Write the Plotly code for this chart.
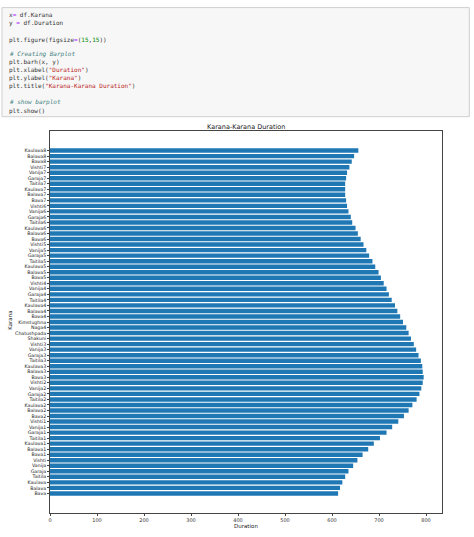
import plotly.graph_objects as go

# ---------------- data ----------------
karana = [
    "Bava", "Balava", "Kaulava", "Taitila", "Garaja", "Vanija", "Vishti",
    "Bava1", "Balava1", "Kaulava1", "Taitila1", "Garaja1", "Vanija1", "Vishti1",
    "Bava2", "Balava2", "Kaulava2", "Taitila2", "Garaja2", "Vanija2", "Vishti2",
    "Bava3", "Balava3", "Kaulava3", "Taitila3", "Garaja3", "Vanija3", "Vishti3",
    "Shakuni", "Chatushpada", "Naga4", "Kimstughna",
    "Bava4", "Balava4", "Kaulava4", "Taitila4", "Garaja4", "Vanija4", "Vishti4",
    "Bava5", "Balava5", "Kaulava5", "Taitila5", "Garaja5", "Vanija5", "Vishti5",
    "Bava6", "Balava6", "Kaulava6", "Taitila6", "Garaja6", "Vanija6", "Vishti6",
    "Bava7", "Balava7", "Kaulava7", "Taitila7", "Garaja7", "Vanija7", "Vishti7",
    "Bava8", "Balava8", "Kaulava8",
]
duration = [
    613, 617, 622, 628, 635, 645, 654,
    665, 677, 689, 702, 716, 728, 741,
    753, 763, 771, 780, 786, 790, 793,
    795, 793, 792, 789, 784, 779, 774,
    768, 763, 758, 751,
    745, 739, 734, 727, 721, 716, 710,
    704, 699, 692, 686, 679, 673, 667,
    661, 655, 650, 643, 640, 635, 632,
    630, 628, 628, 628, 630, 632, 637,
    642, 647, 656,
]
x_ticks = [0, 100, 200, 300, 400, 500, 600, 700, 800]

code_lines = [
    ('x<span style="color:#AA22FF">=</span> df.Karana', 15),
    ('y <span style="color:#AA22FF">=</span> df.Duration', 23.7),
    ('plt.figure(figsize<span style="color:#AA22FF">=</span>(<span style="color:#008800">15</span>,<span style="color:#008800">15</span>))', 40),
    ('<span style="color:#408080"><i># Creating Barplot</i></span>', 54.3),
    ('plt.barh(x, y)', 62.3),
    ('plt.xlabel(<span style="color:#BA2121">"Duration"</span>)', 70.3),
    ('plt.ylabel(<span style="color:#BA2121">"Karana"</span>)', 78.6),
    ('plt.title(<span style="color:#BA2121">"Karana-Karana Duration"</span>)', 86.7),
    ('<span style="color:#408080"><i># show barplot</i></span>', 102.7),
    ('plt.show()', 111),
]

# ---------------- geometry ----------------
W, H = 474, 537
L, R, T, B = 50, 441.7, 131.3, 513
pw, ph = R - L, B - T


def px(x):
    return (x - L) / pw


def py(y):
    return (B - y) / ph


fig = go.Figure(
    go.Bar(
        x=duration,
        y=karana,
        orientation="h",
        width=0.8,
        marker=dict(color="#1f77b4", line=dict(width=0)),
    )
)

fig.update_layout(
    width=W,
    height=H,
    margin=dict(l=L, r=W - R, t=T, b=H - B, pad=0, autoexpand=False),
    paper_bgcolor="white",
    plot_bgcolor="white",
    showlegend=False,
    font=dict(family="DejaVu Sans", color="#222", size=5),
)

fig.update_xaxes(
    automargin=False,
    range=[0, 834],
    tickmode="array",
    tickvals=x_ticks,
    ticks="outside",
    ticklen=2.5,
    tickwidth=0.6,
    tickcolor="#444",
    tickfont=dict(size=5, color="#333"),
    showline=True,
    linecolor="#444",
    linewidth=0.8,
    mirror=True,
    showgrid=False,
    zeroline=False,
)
fig.update_yaxes(
    automargin=False,
    type="category",
    categoryorder="array",
    categoryarray=karana,
    tickmode="array",
    tickvals=karana,
    ticktext=karana,
    range=[-3.54, 65.54],
    ticks="outside",
    ticklen=2,
    tickwidth=0.6,
    tickcolor="#444",
    tickfont=dict(size=4.7, color="#222"),
    showline=True,
    linecolor="#444",
    linewidth=0.8,
    mirror=True,
    showgrid=False,
    zeroline=False,
)

# code cell box
fig.add_shape(
    type="rect",
    xref="paper", yref="paper",
    x0=px(2), x1=px(469), y0=py(8), y1=py(117),
    fillcolor="#f7f7f7",
    line=dict(color="#cfcfcf", width=1),
    layer="below",
)
for txt, yy in code_lines:
    fig.add_annotation(
        text=txt,
        xref="paper", yref="paper",
        x=px(7), y=py(yy),
        xanchor="left", yanchor="middle",
        showarrow=False,
        font=dict(family="DejaVu Sans Mono", size=6, color="#333"),
    )

# titles
fig.add_annotation(
    text="Karana-Karana Duration",
    xref="paper", yref="paper",
    x=0.5, y=py(127),
    xanchor="center", yanchor="middle",
    showarrow=False,
    font=dict(family="DejaVu Sans", size=6.5, color="#222"),
)
fig.add_annotation(
    text="Duration",
    xref="paper", yref="paper",
    x=0.5, y=py(526),
    xanchor="center", yanchor="middle",
    showarrow=False,
    font=dict(family="DejaVu Sans", size=5.5, color="#222"),
)
fig.add_annotation(
    text="Karana",
    xref="paper", yref="paper",
    x=px(10), y=py(320),
    xanchor="center", yanchor="middle",
    textangle=-90,
    showarrow=False,
    font=dict(family="DejaVu Sans", size=5.5, color="#222"),
)

fig.write_html(
    "out.html",
    config={"displayModeBar": False},
    post_script="document.body.style.margin='0';document.body.style.overflow='hidden';",
)
